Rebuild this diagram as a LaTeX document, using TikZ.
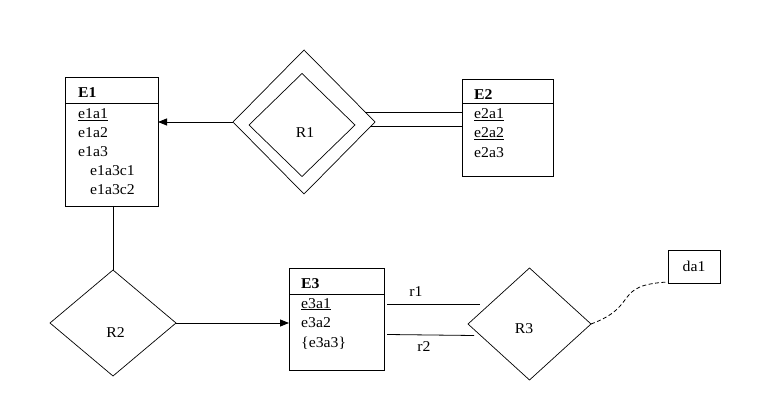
\documentclass[tikz,border=0pt]{standalone}
\usepackage{fontspec}
\setmainfont{Liberation Serif}[FakeStretch=1.05]
\usetikzlibrary{shapes.geometric,arrows.meta}
\begin{document}
\begin{tikzpicture}[x=1pt,y=-1pt,
  every node/.style={font=\fontsize{15}{17}\selectfont},
  ent/.style={draw, line width=0.8pt, rectangle, inner sep=0pt, outer sep=0pt, anchor=north west},
  rel/.style={draw, line width=0.7pt, diamond, inner sep=0pt, outer sep=0pt},
  txt/.style={anchor=base west, inner sep=0pt},
  lbl/.style={inner sep=0pt},
  conn/.style={line width=0.8pt},
  arr/.style={conn, -{Triangle[length=9pt,width=7pt]}},
  dsh/.style={conn, dash pattern=on 4pt off 2.5pt},
]
\useasboundingbox (0,0) rectangle (767,411);
% entities
\node[ent, minimum width=93pt, minimum height=128.5pt] (E1) at (65,77.5) {};
\draw[conn] ([yshift=-25.5pt]E1.north west) -- ([yshift=-25.5pt]E1.north east);
\node[ent, minimum width=91.5pt, minimum height=97pt] (E2) at (462,79) {};
\draw[conn] ([yshift=-24pt]E2.north west) -- ([yshift=-24pt]E2.north east);
\node[ent, minimum width=95.5pt, minimum height=102pt] (E3) at (289,268) {};
\draw[conn] ([yshift=-26.3pt]E3.north west) -- ([yshift=-26.3pt]E3.north east);
\node[draw, line width=0.8pt, inner sep=0pt, outer sep=0pt, minimum width=52pt, minimum height=33pt] (da1) at (694,266.5) {da1};
% entity texts
\node[txt] (t11) at (78,98) {\textbf{E1}};
\node[txt] (t12) at (78,118.5) {\underline{e1a1}};
\node[txt] (t13) at (78,137.5) {e1a2};
\node[txt] (t14) at (78,157) {e1a3};
\node[txt] (t15) at (90,176) {e1a3c1};
\node[txt] (t16) at (90,195) {e1a3c2};
\node[txt] (t21) at (474,99.5) {\textbf{E2}};
\node[txt] (t22) at (474,119) {\underline{e2a1}};
\node[txt] (t23) at (474,138) {\underline{e2a2}};
\node[txt] (t24) at (474,157.5) {e2a3};
\node[txt] (t31) at (301,288.5) {\textbf{E3}};
\node[txt] (t32) at (301,308) {\underline{e3a1}};
\node[txt] (t33) at (301,327.5) {e3a2};
\node[txt] (t34) at (301,347) {\{e3a3\}};
% relationships
\node[rel, minimum width=142pt, minimum height=144pt] (R1o) at (304,122) {};
\node[rel, minimum width=106pt, minimum height=103pt] (R1i) at (302,125) {};
\node[rel, minimum width=126pt, minimum height=106pt] (R2) at (113,323) {};
\node[rel, minimum width=123pt, minimum height=112pt] (R3) at (529.5,324) {};
\node[lbl] (R1t) at (305,133) {R1};
\node[lbl] (R2t) at (115.5,333) {R2};
\node[lbl] (R3t) at (524,329) {R3};
\node[lbl] (r1t) at (416,291.5) {r1};
\node[lbl] (r2t) at (424,347) {r2};
% connectors
\draw[arr] (R1o.west) -- (R1o.west -| E1.east);
\draw[conn] (R1o.9) -- (R1o.9 -| E2.west);
\draw[conn] (R1o.-4) -- (R1o.-4 -| E2.west);
\draw[conn] (R2.north |- E1.south) -- (R2.north);
\draw[arr] (R2.east) -- (R2.east -| E3.west);
\coordinate (r1a) at (387,304);
\coordinate (r1b) at (480,304);
\coordinate (r2a) at (387,334.5);
\coordinate (r2b) at (474,335.5);
\draw[conn] (r1a) -- (r1b);
\draw[conn] (r2a) -- (r2b);
\draw[dsh] (R3.east) .. controls (640,306) and (612,285) .. ([yshift=1pt]da1.south west);
\end{tikzpicture}
\end{document}
